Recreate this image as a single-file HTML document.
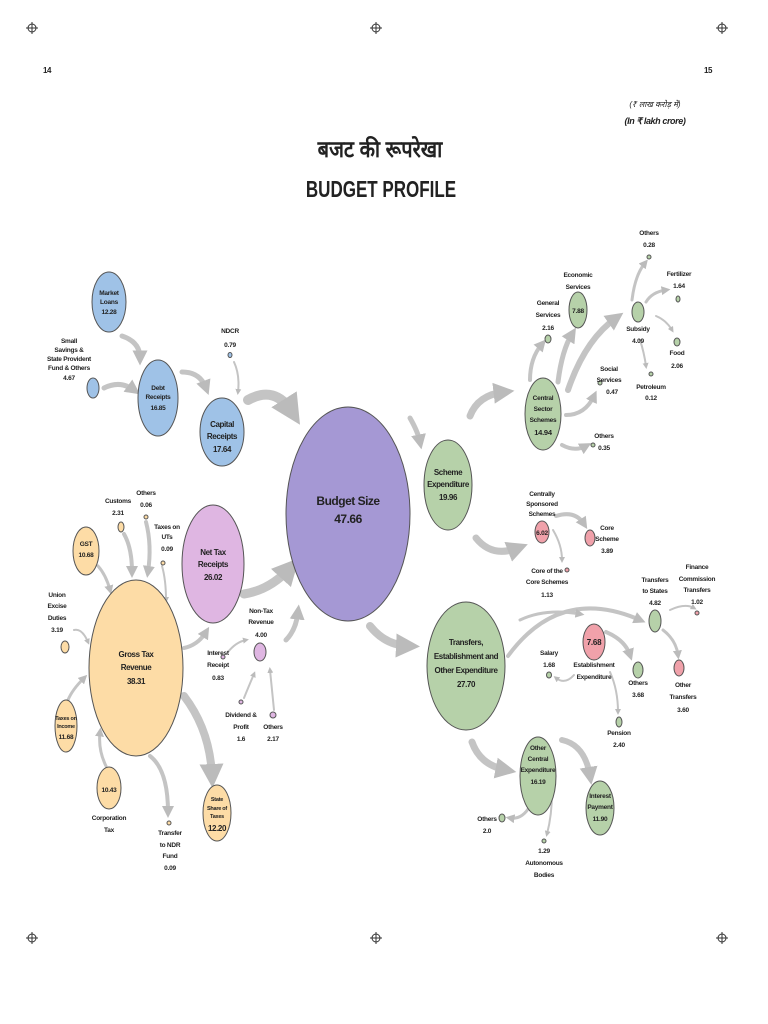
<!DOCTYPE html>
<html><head><meta charset="utf-8"><style>
body{margin:0;background:#fff}
svg{display:block}
text{font-family:"Liberation Sans","Noto Sans CJK SC",sans-serif;font-weight:bold;fill:#222;text-anchor:middle}
.s{font-size:6.5px;letter-spacing:-0.25px}
.m{font-size:8px;letter-spacing:-0.4px}
.l{font-size:10px}
ellipse{stroke:#555;stroke-width:1}
.a{fill:none;stroke:#c4c4c4;stroke-linecap:round}
</style></head><body>
<svg width="768" height="1024" viewBox="0 0 768 1024" xmlns="http://www.w3.org/2000/svg">
<defs>
<marker id="h" viewBox="0 0 10 10" refX="5" refY="5" markerWidth="3" markerHeight="3" orient="auto"><path d="M0,0L10,5L0,10z" fill="#bbb"/></marker>
</defs>
<g stroke="#333" stroke-width="1" fill="none">
<circle cx="32" cy="28" r="4"/><path d="M26,28h12M32,22v12"/>
<circle cx="376" cy="28" r="4"/><path d="M370,28h12M376,22v12"/>
<circle cx="722" cy="28" r="4"/><path d="M716,28h12M722,22v12"/>
<circle cx="32" cy="938" r="4"/><path d="M26,938h12M32,932v12"/>
<circle cx="376" cy="938" r="4"/><path d="M370,938h12M376,932v12"/>
<circle cx="722" cy="938" r="4"/><path d="M716,938h12M722,932v12"/>
</g>
<text x="47" y="73" class="m">14</text>
<text x="708" y="73" class="m">15</text>
<text x="655" y="107" style="font-size:8px;font-style:italic;font-weight:normal">(₹ लाख करोड़ में)</text>
<text x="655" y="124" style="font-size:9px;font-style:italic;letter-spacing:-0.4px">(In ₹ lakh crore)</text>
<text x="380" y="157" style="font-size:23px" transform="translate(380 0) scale(0.87 1) translate(-380 0)">बजट की रूपरेखा</text>
<text x="381" y="197" style="font-size:23px" transform="translate(381 0) scale(0.74 1) translate(-381 0)">BUDGET PROFILE</text>

<g class="a" marker-end="url(#h)">
<path d="M122,336 Q140,342 140,358" stroke-width="5"/>
<path d="M104,388 Q120,380 134,390" stroke-width="5"/>
<path d="M182,372 Q200,372 206,388" stroke-width="5"/>
<path d="M234,362 Q240,375 238,392" stroke-width="2"/>
<path d="M248,400 Q275,385 292,412" stroke-width="10"/>
<path d="M244,594 Q270,590 290,568" stroke-width="9"/>
<path d="M286,640 Q296,630 298,612" stroke-width="5"/>
<path d="M184,648 Q198,645 206,632" stroke-width="4"/>
<path d="M228,652 Q236,642 246,640" stroke-width="2"/>
<path d="M244,698 Q248,688 254,674" stroke-width="2"/>
<path d="M274,710 Q272,690 270,670" stroke-width="2"/>
<path d="M98,566 Q106,575 110,590" stroke-width="3"/>
<path d="M124,534 Q132,548 132,572" stroke-width="4"/>
<path d="M146,522 Q152,545 148,572" stroke-width="4"/>
<path d="M162,566 Q166,580 166,600" stroke-width="2"/>
<path d="M74,630 Q82,628 88,642" stroke-width="2"/>
<path d="M68,700 Q72,690 84,678" stroke-width="3"/>
<path d="M106,766 Q98,750 100,732" stroke-width="3"/>
<path d="M150,756 Q168,770 168,812" stroke-width="4"/>
<path d="M184,696 Q210,730 212,776" stroke-width="8"/>
<path d="M370,626 Q385,645 408,646" stroke-width="8"/>
<path d="M410,418 Q418,432 420,442" stroke-width="5"/>
<path d="M470,416 Q478,395 504,392" stroke-width="7"/>
<path d="M476,538 Q492,558 518,548" stroke-width="7"/>
<path d="M530,380 Q530,358 542,344" stroke-width="4"/>
<path d="M558,382 Q562,350 572,334" stroke-width="5"/>
<path d="M568,390 Q585,340 616,318" stroke-width="6"/>
<path d="M566,415 Q585,415 594,396" stroke-width="4"/>
<path d="M562,445 Q575,452 586,446" stroke-width="4"/>
<path d="M632,300 Q635,275 645,263" stroke-width="3"/>
<path d="M646,302 Q652,292 666,290" stroke-width="3"/>
<path d="M656,316 Q666,320 672,330" stroke-width="2"/>
<path d="M640,340 Q644,352 646,366" stroke-width="2"/>
<path d="M556,516 Q575,510 584,524" stroke-width="4"/>
<path d="M553,530 Q562,545 562,560" stroke-width="2"/>
<path d="M508,656 Q560,585 640,620" stroke-width="4"/>
<path d="M520,620 Q545,608 580,614" stroke-width="3"/>
<path d="M606,632 Q625,640 630,655" stroke-width="4"/>
<path d="M663,630 Q676,640 678,655" stroke-width="3"/>
<path d="M670,610 Q685,603 694,608" stroke-width="2"/>
<path d="M574,675 Q565,685 556,678" stroke-width="2"/>
<path d="M610,672 Q618,690 618,712" stroke-width="2"/>
<path d="M472,742 Q480,765 506,770" stroke-width="7"/>
<path d="M562,740 Q585,745 590,776" stroke-width="6"/>
<path d="M530,806 Q522,820 510,818" stroke-width="3"/>
<path d="M552,792 Q552,815 547,834" stroke-width="2"/>
</g>

<g>
<ellipse cx="109" cy="302" rx="17" ry="30" fill="#9fc2e7"/>
<ellipse cx="93" cy="388" rx="6" ry="10" fill="#9fc2e7"/>
<ellipse cx="158" cy="398" rx="20" ry="38" fill="#9fc2e7"/>
<ellipse cx="230" cy="355" rx="2" ry="2.5" fill="#9fc2e7"/>
<ellipse cx="222" cy="432" rx="22" ry="34" fill="#9fc2e7"/>
<ellipse cx="348" cy="514" rx="62" ry="107" fill="#a598d4"/>
<ellipse cx="213" cy="564" rx="31" ry="59" fill="#dfb6e2"/>
<ellipse cx="136" cy="668" rx="47" ry="88" fill="#fddca6"/>
<ellipse cx="86" cy="551" rx="13" ry="24" fill="#fddca6"/>
<ellipse cx="121" cy="527" rx="3" ry="5" fill="#fddca6"/>
<ellipse cx="146" cy="517" rx="2" ry="2" fill="#fddca6"/>
<ellipse cx="163" cy="563" rx="2" ry="2" fill="#fddca6"/>
<ellipse cx="65" cy="647" rx="4" ry="6" fill="#fddca6"/>
<ellipse cx="66" cy="726" rx="11" ry="26" fill="#fddca6"/>
<ellipse cx="109" cy="788" rx="12" ry="21" fill="#fddca6"/>
<ellipse cx="169" cy="823" rx="2" ry="2" fill="#fddca6"/>
<ellipse cx="217" cy="813" rx="14" ry="28" fill="#fddca6"/>
<ellipse cx="260" cy="652" rx="6" ry="9" fill="#dfb6e2"/>
<ellipse cx="223" cy="657" rx="2" ry="2" fill="#dfb6e2"/>
<ellipse cx="241" cy="702" rx="2" ry="2" fill="#dfb6e2"/>
<ellipse cx="273" cy="715" rx="3" ry="3" fill="#dfb6e2"/>
<ellipse cx="448" cy="485" rx="24" ry="45" fill="#b6d1a9"/>
<ellipse cx="543" cy="414" rx="18" ry="36" fill="#b6d1a9"/>
<ellipse cx="578" cy="310" rx="9" ry="18" fill="#b6d1a9"/>
<ellipse cx="548" cy="339" rx="3" ry="4" fill="#b6d1a9"/>
<ellipse cx="638" cy="312" rx="6" ry="10" fill="#b6d1a9"/>
<ellipse cx="649" cy="257" rx="2" ry="2" fill="#b6d1a9"/>
<ellipse cx="678" cy="299" rx="2" ry="3" fill="#b6d1a9"/>
<ellipse cx="677" cy="342" rx="3" ry="4" fill="#b6d1a9"/>
<ellipse cx="651" cy="374" rx="2" ry="2" fill="#b6d1a9"/>
<ellipse cx="600" cy="383" rx="2" ry="2" fill="#b6d1a9"/>
<ellipse cx="593" cy="445" rx="2" ry="2" fill="#b6d1a9"/>
<ellipse cx="542" cy="532" rx="7" ry="11" fill="#f0a1aa"/>
<ellipse cx="590" cy="538" rx="5" ry="8" fill="#f0a1aa"/>
<ellipse cx="567" cy="570" rx="2" ry="2" fill="#f0a1aa"/>
<ellipse cx="466" cy="666" rx="39" ry="64" fill="#b6d1a9"/>
<ellipse cx="655" cy="621" rx="6" ry="11" fill="#b6d1a9"/>
<ellipse cx="697" cy="613" rx="2" ry="2" fill="#f0a1aa"/>
<ellipse cx="594" cy="642" rx="11" ry="18" fill="#f0a1aa"/>
<ellipse cx="638" cy="670" rx="5" ry="8" fill="#b6d1a9"/>
<ellipse cx="679" cy="668" rx="5" ry="8" fill="#f0a1aa"/>
<ellipse cx="549" cy="675" rx="2.5" ry="3" fill="#b6d1a9"/>
<ellipse cx="619" cy="722" rx="3" ry="5" fill="#b6d1a9"/>
<ellipse cx="538" cy="776" rx="18" ry="39" fill="#b6d1a9"/>
<ellipse cx="600" cy="808" rx="14" ry="27" fill="#b6d1a9"/>
<ellipse cx="502" cy="818" rx="3" ry="4" fill="#b6d1a9"/>
<ellipse cx="544" cy="841" rx="2" ry="2" fill="#b6d1a9"/>
</g>

<g class="s">
<text x="109" y="295">Market</text><text x="109" y="304">Loans</text><text x="109" y="314">12.28</text>
<text x="69" y="343">Small</text><text x="69" y="352">Savings &amp;</text><text x="69" y="361">State Provident</text><text x="69" y="370">Fund &amp; Others</text><text x="69" y="380">4.67</text>
<text x="158" y="390">Debt</text><text x="158" y="399">Receipts</text><text x="158" y="410">16.85</text>
<text x="230" y="333">NDCR</text><text x="230" y="347">0.79</text>
<text x="118" y="503">Customs</text><text x="118" y="515">2.31</text>
<text x="146" y="495">Others</text><text x="146" y="507">0.06</text>
<text x="167" y="529">Taxes on</text><text x="167" y="539">UTs</text><text x="167" y="551">0.09</text>
<text x="86" y="546">GST</text><text x="86" y="557">10.68</text>
<text x="57" y="597">Union</text><text x="57" y="608">Excise</text><text x="57" y="620">Duties</text><text x="57" y="632">3.19</text>
<text x="66" y="720" style="font-size:5.5px">Taxes on</text><text x="66" y="728" style="font-size:5.5px">Income</text><text x="66" y="739">11.68</text>
<text x="109" y="792">10.43</text>
<text x="109" y="820">Corporation</text><text x="109" y="832">Tax</text>
<text x="170" y="835">Transfer</text><text x="170" y="847">to NDR</text><text x="170" y="858">Fund</text><text x="170" y="870">0.09</text>
<text x="217" y="801" style="font-size:5.5px">State</text><text x="217" y="810" style="font-size:5.5px">Share of</text><text x="217" y="818" style="font-size:5.5px">Taxes</text>
<text x="261" y="613">Non-Tax</text><text x="261" y="624">Revenue</text><text x="261" y="637">4.00</text>
<text x="218" y="655">Interest</text><text x="218" y="667">Receipt</text><text x="218" y="680">0.83</text>
<text x="241" y="717">Dividend &amp;</text><text x="241" y="729">Profit</text><text x="241" y="741">1.6</text>
<text x="273" y="729">Others</text><text x="273" y="741">2.17</text>
<text x="578" y="277">Economic</text><text x="578" y="289">Services</text><text x="578" y="313">7.88</text>
<text x="548" y="305">General</text><text x="548" y="317">Services</text><text x="548" y="330">2.16</text>
<text x="543" y="400">Central</text><text x="543" y="411">Sector</text><text x="543" y="422">Schemes</text><text x="543" y="435" style="font-size:7.5px">14.94</text>
<text x="609" y="371">Social</text><text x="609" y="382">Services</text><text x="612" y="394">0.47</text>
<text x="604" y="438">Others</text><text x="604" y="450">0.35</text>
<text x="649" y="235">Others</text><text x="649" y="247">0.28</text>
<text x="679" y="276">Fertilizer</text><text x="679" y="288">1.64</text>
<text x="638" y="331">Subsidy</text><text x="638" y="343">4.09</text>
<text x="677" y="355">Food</text><text x="677" y="368">2.06</text>
<text x="651" y="389">Petroleum</text><text x="651" y="400">0.12</text>
<text x="542" y="496">Centrally</text><text x="542" y="506">Sponsored</text><text x="542" y="516">Schemes</text><text x="542" y="535">6.02</text>
<text x="607" y="530">Core</text><text x="607" y="541">Scheme</text><text x="607" y="553">3.89</text>
<text x="547" y="573">Core of the</text><text x="547" y="584">Core Schemes</text><text x="547" y="597">1.13</text>
<text x="655" y="582">Transfers</text><text x="655" y="593">to States</text><text x="655" y="605">4.82</text>
<text x="697" y="569">Finance</text><text x="697" y="581">Commission</text><text x="697" y="592">Transfers</text><text x="697" y="604">1.02</text>
<text x="594" y="645" style="font-size:8px">7.68</text>
<text x="594" y="667">Establishment</text><text x="594" y="679">Expenditure</text>
<text x="549" y="655">Salary</text><text x="549" y="667">1.68</text>
<text x="638" y="685">Others</text><text x="638" y="697">3.68</text>
<text x="683" y="687">Other</text><text x="683" y="699">Transfers</text><text x="683" y="712">3.60</text>
<text x="619" y="735">Pension</text><text x="619" y="747">2.40</text>
<text x="538" y="750">Other</text><text x="538" y="761">Central</text><text x="538" y="772">Expenditure</text><text x="538" y="784">16.19</text>
<text x="600" y="798">Interest</text><text x="600" y="809">Payment</text><text x="600" y="821">11.90</text>
<text x="487" y="821">Others</text><text x="487" y="833">2.0</text>
<text x="544" y="853">1.29</text><text x="544" y="865">Autonomous</text><text x="544" y="877">Bodies</text>
</g>
<g class="m">
<text x="222" y="427">Capital</text><text x="222" y="439">Receipts</text><text x="222" y="452">17.64</text>
<text x="213" y="555">Net Tax</text><text x="213" y="567">Receipts</text><text x="213" y="580">26.02</text>
<text x="136" y="657">Gross Tax</text><text x="136" y="670">Revenue</text><text x="136" y="684">38.31</text>
<text x="217" y="831">12.20</text>
<text x="448" y="475">Scheme</text><text x="448" y="487">Expenditure</text><text x="448" y="500">19.96</text>
<text x="466" y="645">Transfers,</text><text x="466" y="659">Establishment and</text><text x="466" y="673">Other Expenditure</text><text x="466" y="687">27.70</text>
</g>
<text x="348" y="505" style="font-size:12px;letter-spacing:-0.5px">Budget Size</text>
<text x="348" y="523" style="font-size:12px;letter-spacing:-0.5px">47.66</text>
</svg>
</body></html>
